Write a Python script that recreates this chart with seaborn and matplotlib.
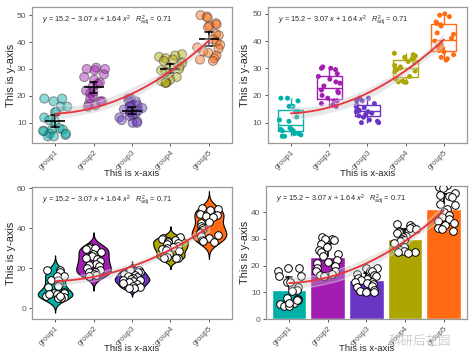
import numpy as np
import pandas as pd
import matplotlib
matplotlib.use("Agg")
import matplotlib.pyplot as plt
import seaborn as sns

# valores (20 pontos por grupo)
groups = ["group1", "group2", "group3", "group4", "group5"]
g1 = [19, 19, 18, 16, 16, 14, 14, 12, 11, 10.5, 8, 7.5, 7.5, 7, 6, 5.5, 5, 5, 6, 7]
g2 = [30.5, 30, 30, 29.5, 28, 27, 26, 25, 24.5, 23.5, 22, 21.5, 21, 20, 19, 18, 18, 17, 16.5, 16]
g3 = [19, 19, 18, 18, 17, 16.5, 16, 15.5, 15, 14.5, 14, 14, 13.5, 13, 12.5, 12, 11, 10.5, 10, 10]
g4 = [35.5, 35, 34.5, 34, 33.5, 33, 32.5, 32, 31, 30.5, 30, 29.5, 29, 28.5, 27, 26, 25.5, 25, 25, 24.8]
g5 = [50, 49.5, 49, 47, 46.5, 46, 45.5, 43, 42.5, 41, 40, 39, 38, 37.5, 36.5, 36, 35, 34, 33.5, 33]
colors = ["#00AFA7", "#A21DB2", "#6A35C2", "#ADA500", "#FF6A12"]
eq_label = r"$y$ = 15.2 $-$ 3.07 $x$ + 1.64 $x^2$   $R^2_{\mathrm{adj}}$ = 0.71"

values = [g1, g2, g3, g4, g5]
df = pd.DataFrame({
    "group": np.repeat(groups, [len(v) for v in values]),
    "value": np.concatenate(values),
})
df["pos"] = df["group"].map({g: i for i, g in enumerate(groups)})
pal = dict(zip(groups, colors))

sns.set_style("ticks")
plt.rcParams["font.family"] = ["Liberation Sans", "DejaVu Sans"]
plt.rcParams["mathtext.fontset"] = "custom"
plt.rcParams["mathtext.rm"] = "Liberation Sans"
plt.rcParams["mathtext.it"] = "Liberation Sans:italic"
np.random.seed(7)

fig = plt.figure(figsize=(4.74, 3.64), dpi=100)
ax1 = fig.add_axes([0.0675, 0.607, 0.422, 0.3736])
ax2 = fig.add_axes([0.565, 0.607, 0.42, 0.3736])
ax3 = fig.add_axes([0.0675, 0.1236, 0.422, 0.3626])
ax4 = fig.add_axes([0.561, 0.1236, 0.424, 0.365])


def fit_line(ax):
    # ajuste quadrático com faixa de confiança cinza
    sns.regplot(data=df, x="pos", y="value", order=2, scatter=False, ax=ax,
                color="#E8353B", line_kws=dict(lw=1.3, zorder=5), ci=95, n_boot=300)
    ax.collections[-1].set_facecolor("#BBBBBB")
    ax.collections[-1].set_alpha(0.35)
    ax.collections[-1].set_zorder(4)


def finish(ax, ylim, yticks, ylab_x):
    ax.set_xlim(-0.6, 4.6)
    ax.set_ylim(*ylim)
    ax.set_yticks(yticks)
    ax.set_xticks(range(5))
    ax.set_xticklabels(groups, rotation=45, ha="right", rotation_mode="anchor")
    ax.set_xlabel("This is x-axis", fontsize=6.8)
    ax.set_ylabel("This is y-axis", fontsize=7.8)
    ax.xaxis.set_label_coords(0.5, -0.19)
    ax.yaxis.set_label_coords(ylab_x, 0.5)
    ax.tick_params(colors="#555555", length=2.5, width=0.7, pad=1.5)
    ax.tick_params(axis="x", labelsize=5.6)
    ax.tick_params(axis="y", labelsize=6)
    for s in ax.spines.values():
        s.set_visible(True)
        s.set_color("#999999")
        s.set_linewidth(0.9)
    ax.text(0.05, 0.905, eq_label, transform=ax.transAxes, fontsize=5.3,
            va="center", ha="left", zorder=10)


# painel 1: pontos transparentes + média ± erro
sns.stripplot(data=df, x="group", y="value", hue="group", palette=pal, ax=ax1,
              jitter=0.33, size=6.5, alpha=0.45, linewidth=0.8, edgecolor="#333333",
              legend=False, zorder=2)
sns.pointplot(data=df, x="group", y="value", ax=ax1, errorbar=("se", 2), color="black",
              markers="_", markersize=14, markeredgewidth=1.2, linestyle="none",
              capsize=0.2, err_kws=dict(linewidth=1.1))
fit_line(ax1)
finish(ax1, (2.5, 53), [10, 20, 30, 40, 50], -0.08)

# painel 2: boxplot vazado + pontos
sns.boxplot(data=df, x="group", y="value", hue="group", palette=pal, ax=ax2,
            fill=False, width=0.65, showfliers=False, showcaps=False, linewidth=1,
            legend=False)
sns.stripplot(data=df, x="group", y="value", hue="group", palette=pal, ax=ax2,
              jitter=0.3, size=3.6, legend=False, zorder=3)
fit_line(ax2)
finish(ax2, (2.5, 52.5), [10, 20, 30, 40, 50], -0.09)

# painel 3: violino + pontos brancos
sns.violinplot(data=df, x="group", y="value", hue="group", palette=pal, ax=ax3,
               inner=None, linecolor="black", linewidth=0.8, width=0.9,
               density_norm="area", cut=3, bw_adjust=0.9, saturation=1, legend=False)
sns.stripplot(data=df, x="group", y="value", ax=ax3, color="white", jitter=0.25,
              size=5.5, linewidth=0.7, edgecolor="black", zorder=3)
fit_line(ax3)
finish(ax3, (-5.5, 60.5), [0, 20, 40, 60], -0.08)

# painel 4: barras com desvio padrão (só a metade de cima aparece)
sns.barplot(data=df, x="group", y="value", hue="group", palette=pal, ax=ax4,
            errorbar="sd", capsize=0.15, width=0.9, saturation=1, legend=False,
            err_kws=dict(color="black", linewidth=1.2))
for ln in ax4.lines:
    ln.set_zorder(0.5)
sns.stripplot(data=df, x="group", y="value", ax=ax4, color="white", jitter=0.3,
              size=5.5, linewidth=0.7, edgecolor="black", zorder=3)
fit_line(ax4)
finish(ax4, (0, 49.7), [0, 10, 20, 30, 40], -0.08)

fig.text(0.885, 0.063, "科研后花园", color="#CFCFCF", fontsize=9,
         family=["Noto Sans CJK SC", "DejaVu Sans"], ha="center", va="center")

fig.savefig("out.png", dpi=100)
